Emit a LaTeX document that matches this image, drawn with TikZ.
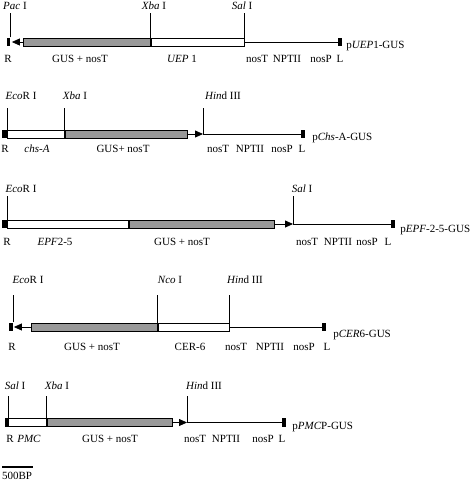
\documentclass[tikz,border=0pt]{standalone}
\usepackage{fontspec}
\setmainfont{Liberation Serif}
\usetikzlibrary{arrows.meta}

\begin{document}
\begin{tikzpicture}[x=1pt,y=-1pt,line width=.8pt,
  lbl/.style={font=\fontsize{11}{13}\selectfont,inner sep=0pt,text height=7.5pt,text depth=2pt},
  box/.style={draw,inner sep=0pt,minimum height=8pt,anchor=west},
  gus/.style={box,fill=black!40},
  prom/.style={box,fill=white},
  bord/.style={fill=black,inner sep=0pt,minimum height=8.5pt,minimum width=#1},
  bord/.default=4pt,
  arr/.style={-{Triangle[length=8pt,width=7pt]}},
  gap/.style={shorten >=#1}]
\useasboundingbox (0,0) rectangle (474,483);

% pUEP1-GUS
\node[bord=3pt] (R1) at (8.5,42) {};
\node[gus,minimum width=127pt] (G1) at (23,42) {};
\node[prom,minimum width=93pt] (P1) at (G1.east) {};
\node[bord] (L1) at (340,42) {};
\draw[arr,shorten >=1.5pt] (G1.west) -- (R1.east);
\draw (P1.east) -- (L1.west);
\node[lbl] (pac1) at (15,7) {\textit{Pac} I};
\node[lbl] (xba1) at (154,7) {\textit{Xba} I};
\node[lbl] (sal1) at (242,7) {\textit{Sal} I};
\draw[gap=1pt] (R1.north east) -- (R1.north east |- pac1.south);
\draw[gap=1pt] (G1.north east) -- (G1.north east |- xba1.south);
\draw[gap=1pt] (P1.north east) -- (P1.north east |- sal1.south);
\node[lbl] (tR1) at (8,60) {R};
\node[lbl] (tG1) at (80,60) {GUS + nosT};
\node[lbl] (tP1) at (182,60) {\textit{UEP} 1};
\node[lbl] (tT1) at (257,60) {nosT};
\node[lbl] (tN1) at (287,60) {NPTII};
\node[lbl] (tO1) at (321,60) {nosP};
\node[lbl] (tL1) at (340,60) {L};
\node[lbl,anchor=west] (name1) at (346,46) {p\textit{UEP}1-GUS};

% pChs-A-GUS
\node[bord=5pt] (R2) at (4.5,134) {};
\node[prom,minimum width=57pt] (P2) at (7,134) {};
\node[gus,minimum width=122pt] (G2) at (P2.east) {};
\coordinate (h2) at (203,134);
\node[bord] (L2) at (303,134) {};
\draw[arr] (G2.east) -- (h2);
\draw (h2) -- (L2.west);
\node[lbl] (eco2) at (21,97) {\textit{Eco}R I};
\node[lbl] (xba2) at (75,97) {\textit{Xba} I};
\node[lbl] (hin2) at (223,97) {\textit{Hin}d III};
\draw[gap=6pt] (P2.north west) -- (P2.north west |- eco2.south);
\draw[gap=6pt] (G2.north west) -- (G2.north west |- xba2.south);
\draw[gap=6pt] (h2) -- (h2 |- hin2.south);
\node[lbl] (tR2) at (5,150) {R};
\node[lbl] (tP2) at (37,150) {\textit{chs-A}};
\node[lbl] (tG2) at (123,150) {GUS+ nosT};
\node[lbl] (tT2) at (218,150) {nosT};
\node[lbl] (tN2) at (250,150) {NPTII};
\node[lbl] (tO2) at (282,150) {nosP};
\node[lbl] (tL2) at (302,150) {L};
\node[lbl,anchor=west] (name2) at (312,138) {p\textit{Chs}-A-GUS};

% pEPF-2-5-GUS
\node[bord=5pt] (R3) at (4.5,224) {};
\node[prom,minimum width=121pt] (P3) at (7,224) {};
\node[gus,minimum width=145pt] (G3) at (P3.east) {};
\coordinate (s3) at (293,224);
\node[bord] (L3) at (393,224) {};
\draw[arr] (G3.east) -- (s3);
\draw (s3) -- (L3.west);
\node[lbl] (eco3) at (21,190) {\textit{Eco}R I};
\node[lbl] (sal3) at (302,190) {\textit{Sal} I};
\draw[gap=1pt] (P3.north west) -- (P3.north west |- eco3.south);
\draw[gap=1pt] (s3) -- (s3 |- sal3.south);
\node[lbl] (tR3) at (7,243) {R};
\node[lbl] (tP3) at (55,243) {\textit{EPF}2-5};
\node[lbl] (tG3) at (182,243) {GUS + nosT};
\node[lbl] (tT3) at (307,243) {nosT};
\node[lbl] (tN3) at (338,243) {NPTII};
\node[lbl] (tO3) at (367,243) {nosP};
\node[lbl] (tL3) at (388,243) {L};
\node[lbl,anchor=west] (name3) at (400,230) {p\textit{EPF}-2-5-GUS};

% pCER6-GUS
\node[bord] (R4) at (11,327) {};
\node[gus,minimum width=126pt] (G4) at (31,327) {};
\node[prom,minimum width=71pt] (P4) at (G4.east) {};
\node[bord] (L4) at (324,327) {};
\draw[arr,shorten >=.5pt] (G4.west) -- (R4.east);
\draw (P4.east) -- (L4.west);
\node[lbl] (eco4) at (28,281) {\textit{Eco}R I};
\node[lbl] (nco4) at (170,281) {\textit{Nco} I};
\node[lbl] (hin4) at (245,281) {\textit{Hin}d III};
\draw[gap=9pt] (R4.north east) -- (R4.north east |- eco4.south);
\draw[gap=9pt] (G4.north east) -- (G4.north east |- nco4.south);
\draw[gap=9pt] (P4.north east) -- (P4.north east |- hin4.south);
\node[lbl] (tR4) at (12,348) {R};
\node[lbl] (tG4) at (92,348) {GUS + nosT};
\node[lbl] (tP4) at (190,348) {CER-6};
\node[lbl] (tT4) at (236,348) {nosT};
\node[lbl] (tN4) at (270,348) {NPTII};
\node[lbl] (tO4) at (304,348) {nosP};
\node[lbl] (tL4) at (327,348) {L};
\node[lbl,anchor=west] (name4) at (333,335) {p\textit{CER}6-GUS};

% pPMCP-GUS
\node[bord=3pt] (R5) at (6.5,422.5) {};
\node[prom,minimum width=38pt] (P5) at (8,422.5) {};
\node[gus,minimum width=125pt] (G5) at (P5.east) {};
\coordinate (h5) at (187,422.5);
\node[bord] (L5) at (284,422.5) {};
\draw[arr] (G5.east) -- (h5);
\draw (h5) -- (L5.west);
\node[lbl] (sal5) at (15,387) {\textit{Sal} I};
\node[lbl] (xba5) at (57,387) {\textit{Xba} I};
\node[lbl] (hin5) at (204,387) {\textit{Hin}d III};
\draw[gap=4pt] (P5.north west) -- (P5.north west |- sal5.south);
\draw[gap=4pt] (G5.north west) -- (G5.north west |- xba5.south);
\draw[gap=4pt] (h5) -- (h5 |- hin5.south);
\node[lbl] (tR5) at (10,440) {R};
\node[lbl] (tP5) at (29,440) {\textit{PMC}};
\node[lbl] (tG5) at (110,440) {GUS + nosT};
\node[lbl] (tT5) at (195,440) {nosT};
\node[lbl] (tN5) at (226,440) {NPTII};
\node[lbl] (tO5) at (263,440) {nosP};
\node[lbl] (tL5) at (282,440) {L};
\node[lbl,anchor=west] (name5) at (292,427) {p\textit{PMC}P-GUS};

% scale bar
\coordinate (bar) at (2,467);
\draw[line width=2.5pt] (bar) -- ++(31,0);
\node[lbl] (bp) at (17,477) {500BP};
\end{tikzpicture}
\end{document}
